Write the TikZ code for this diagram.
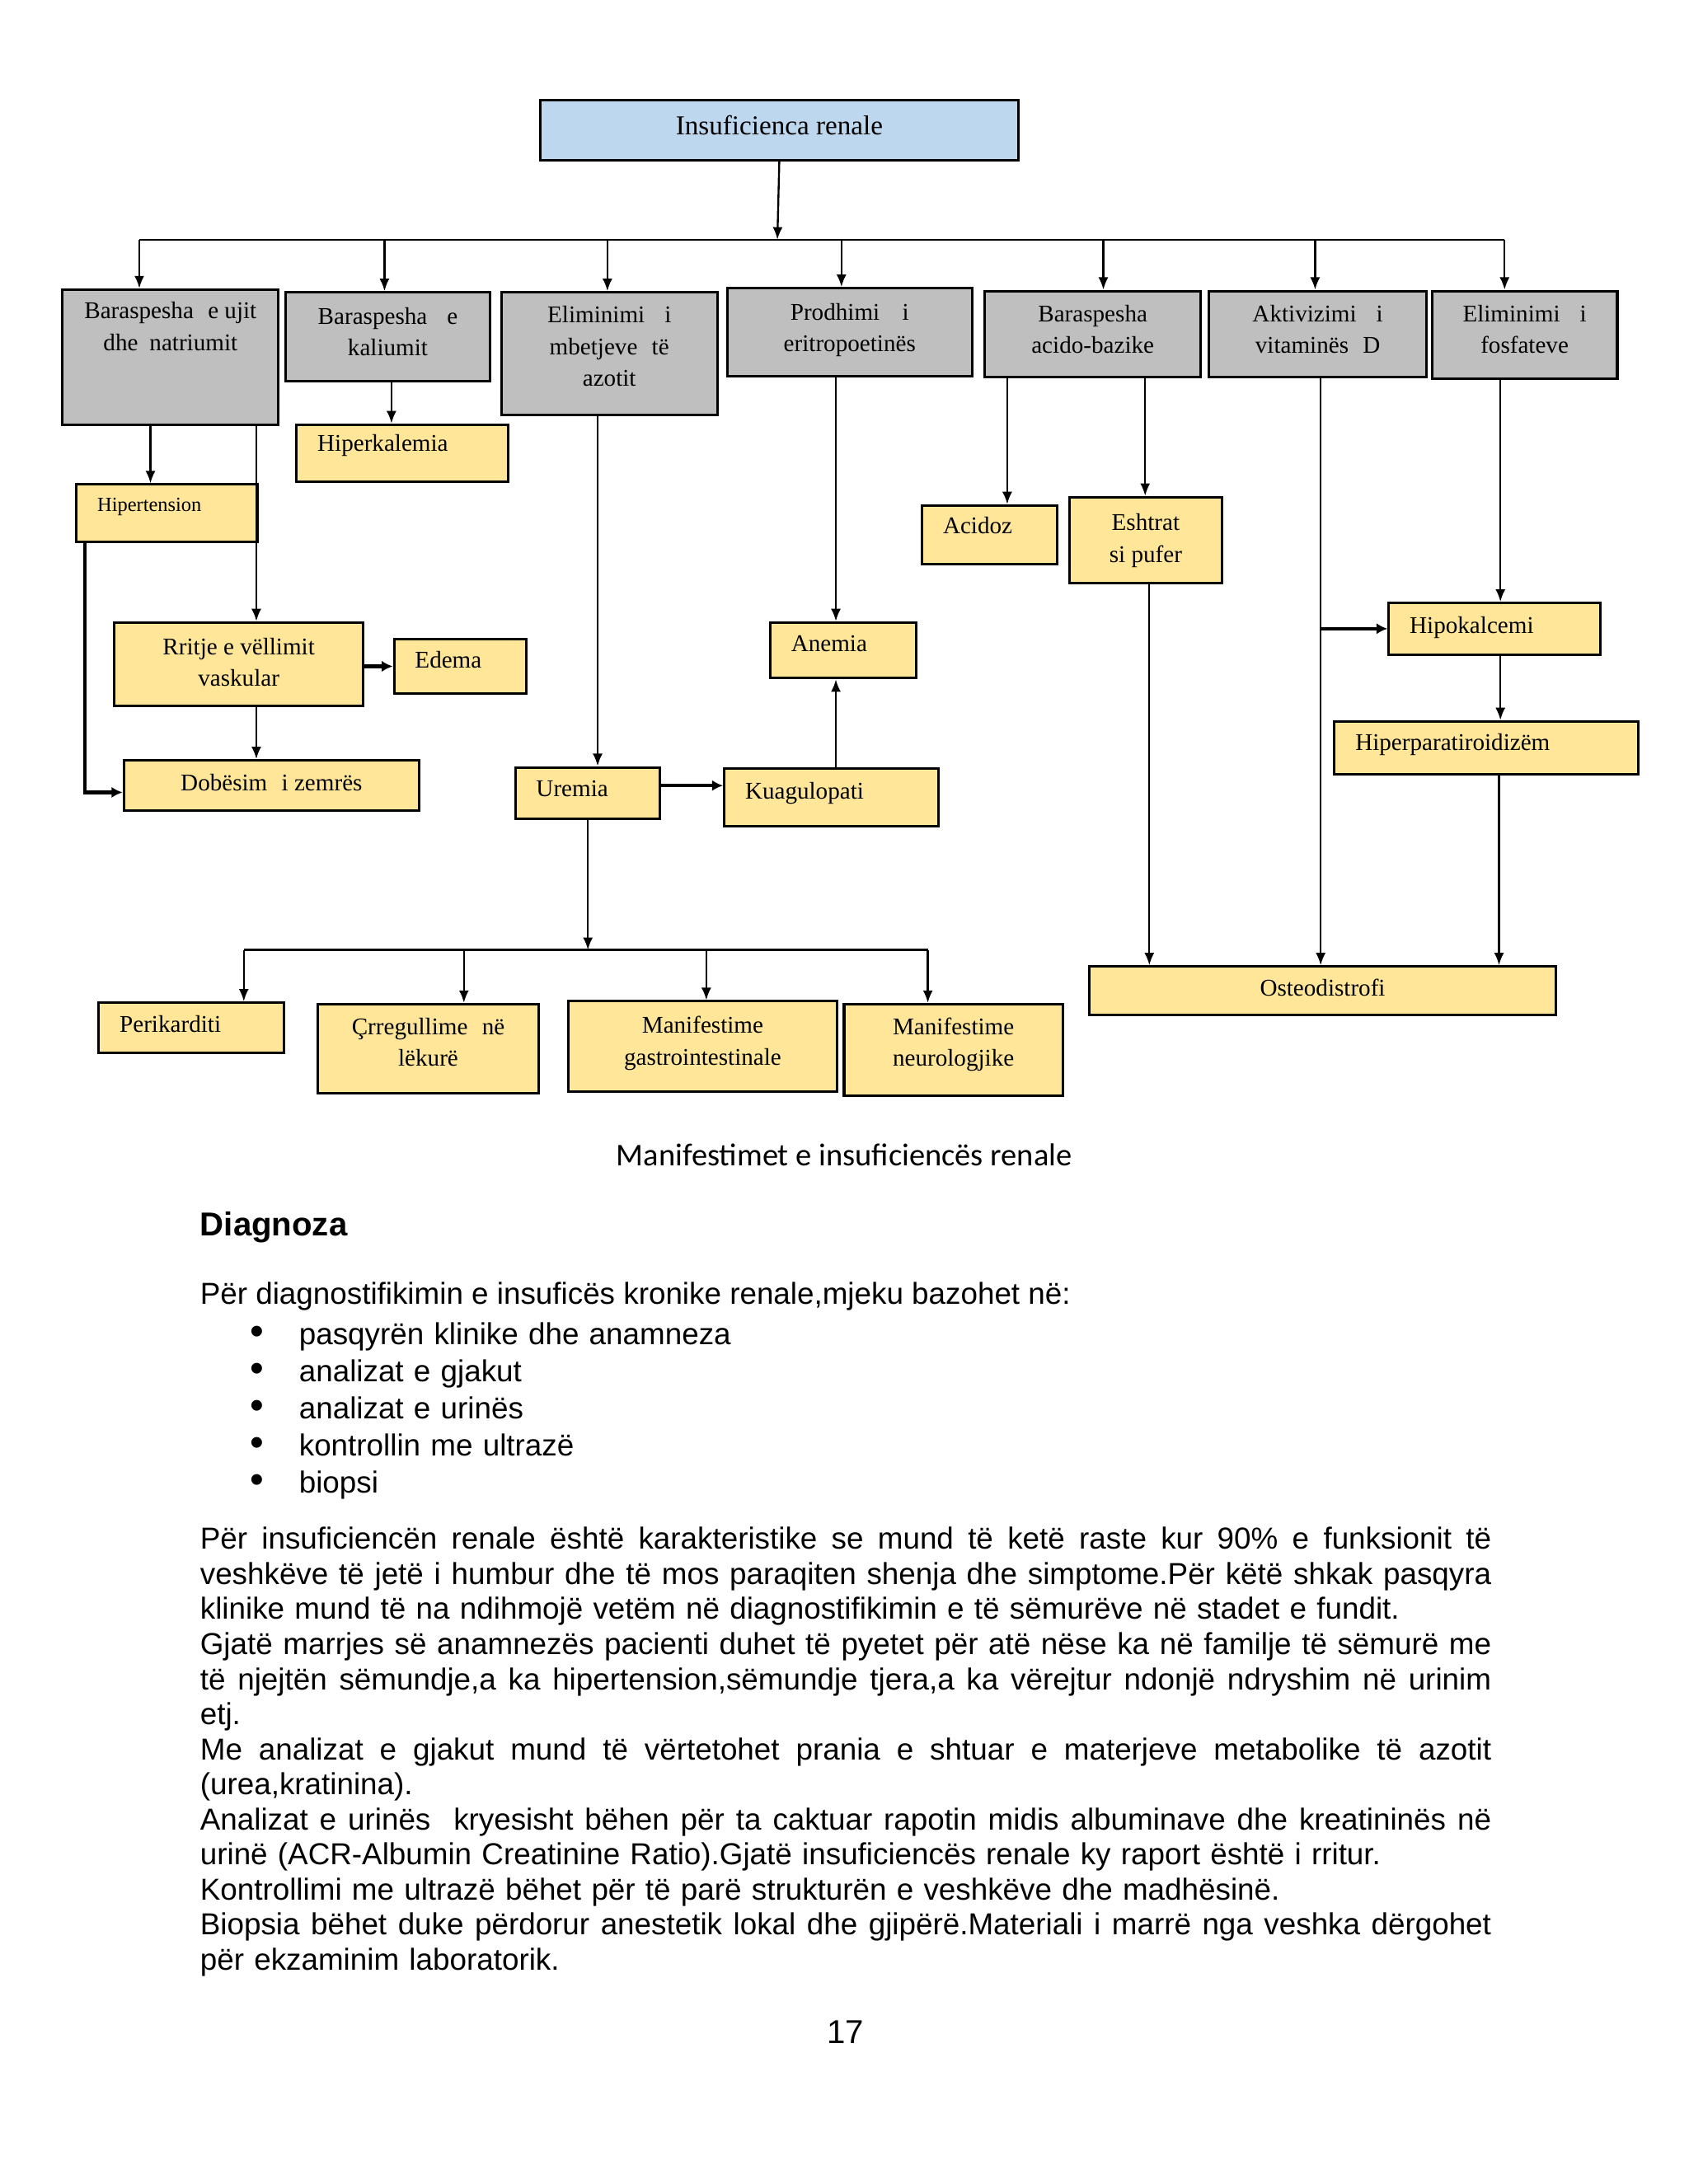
\documentclass[tikz,border=0pt]{standalone}
\usepackage{fontspec}
\setmainfont{Liberation Sans}
\newfontfamily\diafont{Liberation Serif}
\newfontfamily\capfont{Carlito}
\usetikzlibrary{arrows.meta}
\newdimen\unitpx
\unitpx=0.50495pt

\definecolor{kaltert}{RGB}{189,215,238}
\definecolor{gri}{RGB}{191,191,191}
\definecolor{verdhe}{RGB}{255,230,153}

% rresht i plote i tekstit
\newcommand{\jl}[1]{\leavevmode\hbox to 468pt{\spaceskip=0pt\xspaceskip=0pt #1}}
\newcommand{\pik}{\makebox[35\unitpx][l]{\scalebox{1.3}{\textbullet}}}
% kuti: emri, x, y, gjeresia, lartesia, stili, hapesira siper, teksti
\newcommand{\kutiC}[8]{%
\node[#6] (#1) at (#2,#3) {\parbox[c][#5\unitpx][t]{#4\unitpx}{\vspace*{#7\unitpx}\centering\strut #8}};}
\newcommand{\kutiL}[8]{%
\node[#6] (#1) at (#2,#3) {\parbox[c][#5\unitpx][t]{#4\unitpx}{\vspace*{#7\unitpx}\hspace*{15\unitpx}\strut #8}};}

\tikzset{
  bx/.style={draw, line width=0.9pt, anchor=north west, inner sep=0pt,
    font=\diafont\fontsize{8.7}{11.5}\selectfont},
  blubox/.style={bx, fill=kaltert, font=\diafont\fontsize{9.9}{12}\selectfont},
  gribox/.style={bx, fill=gri},
  verdbox/.style={bx, fill=verdhe},
  vogelbox/.style={bx, fill=verdhe, font=\diafont\fontsize{7.3}{9.5}\selectfont},
  arr/.style={-{Latex[length=4.5pt,width=3.6pt]}, line width=0.7pt},
  arrT/.style={-{Latex[length=4pt,width=4pt]}, line width=1.3pt}
}

\begin{document}
\begin{tikzpicture}[x=0.50495pt,y=-0.50495pt,line width=0.7pt]
\useasboundingbox (0,0) rectangle (1212,1568);
\fill[white] (0,0) rectangle (1212,1568);

% kutia kryesore
\kutiC{ins}{387}{71}{343}{43}{blubox}{8}{Insuficienca renale}

% funksionet e veshkes
\kutiC{g1}{44}{207}{155}{97}{gribox}{5}{Baraspesha\hspace{3pt} e ujit\\dhe\hspace{2pt} natriumit}
\kutiC{g2}{204}{209}{147}{64}{gribox}{7}{Baraspesha\hspace{5pt} e\\kaliumit}
\kutiC{g3}{359}{209}{155}{88}{gribox}{6}{Eliminimi\hspace{5pt} i\\mbetjeve\hspace{3pt} të\\azotit}
\kutiC{g4}{521}{206}{176}{63}{gribox}{7}{Prodhimi\hspace{6pt} i\\eritropoetinës}
\kutiC{g5}{706}{208}{155}{62}{gribox}{6}{Baraspesha\\acido-bazike}
\kutiC{g6}{867}{208}{156}{62}{gribox}{6}{Aktivizimi\hspace{5pt} i\\vitaminës\hspace{3pt} D}
\kutiC{g7}{1027}{208}{133}{63}{gribox}{6}{Eliminimi\hspace{5pt} i\\fosfateve}

% pasojat
\kutiL{hk}{212}{304}{152}{41}{verdbox}{3}{Hiperkalemia}
\kutiL{hip}{54}{347}{130}{41}{vogelbox}{6}{Hipertension}
\kutiC{rr}{81}{446}{179}{60}{verdbox}{7}{Rritje e vëllimit\\vaskular}
\kutiL{ed}{282}{458}{95}{39}{verdbox}{5}{Edema}
\kutiC{dob}{88}{545}{212}{36}{verdbox}{6}{Dobësim\hspace{3pt} i zemrës}
\kutiL{ur}{369}{550}{104}{37}{verdbox}{5}{Uremia}
\kutiL{ku}{519}{551}{154}{41}{verdbox}{6}{Kuagulopati}
\kutiL{an}{552}{446}{105}{40}{verdbox}{5}{Anemia}
\kutiL{ac}{661}{362}{97}{42}{verdbox}{4}{Acidoz}
\kutiC{es}{767}{356}{109}{62}{verdbox}{8}{Eshtrat\\si pufer}
\kutiL{hk2}{996}{432}{152}{37}{verdbox}{6}{Hipokalcemi}
\kutiL{hp}{957}{517}{218}{38}{verdbox}{5}{Hiperparatiroidizëm}
\kutiC{os}{781}{693}{335}{35}{verdbox}{5}{Osteodistrofi}
\kutiL{pk}{70}{719}{133}{36}{verdbox}{5}{Perikarditi}
\kutiC{cr}{227}{720}{159}{64}{verdbox}{6}{Çrregullime\hspace{3pt} në\\lëkurë}
\kutiC{mg}{407}{718}{193}{65}{verdbox}{7}{Manifestime\\gastrointestinale}
\kutiC{mn}{605}{720}{157}{66}{verdbox}{6}{Manifestime\\neurologjike}

% degezimi kryesor
\coordinate (b0) at (558,172);
\draw[arr] (ins.south) -- (b0);
\foreach \n/\xx in {g1/100,g2/276,g3/436,g4/604,g5/792,g6/944,g7/1080}{
  \coordinate (t\n) at (\xx,172);
  \draw[arr] (t\n) -- (t\n |- \n.north);
}
\draw (tg1) -- (tg7);

% lidhjet
\draw[arr] (g1.south -| 108,0) -- (hip.north -| 108,0);
\draw[arr] (g1.south -| 184,0) -- (rr.north -| 184,0);
\draw[arrT] (hip.south -| 61,0) |- ([shift={(0,5)}]dob.west);
\draw[arrT] (rr.east |- ed.west) -- (ed.west);
\draw[arr] (rr.south -| 184,0) -- (dob.north -| 184,0);
\draw[arr] (g2.south -| 281,0) -- (hk.north -| 281,0);
\draw[arr] (g3.south -| 429,0) -- (ur.north -| 429,0);
\draw[arrT] (ur.east |- 0,564) -- (ku.west |- 0,564);
\draw[arr] (g4.south -| 600,0) -- (an.north -| 600,0);
\draw[arr] (ku.north -| 600,0) -- (an.south -| 600,0);
\draw[arr] (g5.south -| 723,0) -- (ac.north -| 723,0);
\draw[arr] (g5.south -| 822,0) -- (es.north -| 822,0);
\draw[arr] (es.south -| 825,0) -- (os.north -| 825,0);
\draw[arr] (g6.south -| 948,0) -- (os.north -| 948,0);
\draw[arrT] (hk2.west -| 948,0) -- (hk2.west);
\draw[arr] (g7.south -| 1077,0) -- (hk2.north -| 1077,0);
\draw[arr] (hk2.south -| 1077,0) -- (hp.north -| 1077,0);
\draw[arr] (hp.south -| 1076,0) -- (os.north -| 1076,0);

% uremia
\coordinate (u0) at (422,682);
\draw[arr] (ur.south -| u0) -- (u0);
\foreach \n/\xx in {pk/175,cr/333,mg/507,mn/666}{
  \coordinate (t\n) at (\xx,682);
  \draw[arr] (t\n) -- (t\n |- \n.north);
}
\draw (tpk) -- (tmn);

% teksti i faqes
\node[font=\capfont\fontsize{11.5}{13}\selectfont] (titulli) at (606,829) {Manifestimet e insuficiencës renale};
\node[anchor=west, inner sep=0pt, font=\bfseries\fontsize{12}{14}\selectfont] (diag) at (143,881) {Diagnoza};
\node[anchor=west, inner sep=0pt, font=\fontsize{11}{13}\selectfont] (hyrje) at (143,931) {Për diagnostifikimin e insuficës kronike renale,mjeku bazohet në:};
\node[anchor=north west, inner sep=0pt, text width=300pt, align=left, font=\fontsize{11}{13.43}\selectfont] (lista) at (179,946) {%
\strut\pik pasqyrën klinike dhe anamneza\\
\pik analizat e gjakut\\
\pik analizat e urinës\\
\pik kontrollin me ultrazë\\
\pik biopsi};
\node[anchor=north west, inner sep=0pt, text width=468pt, align=left, font=\fontsize{11}{12.71}\selectfont] (teksti) at (143,1094) {%
\strut\jl{Për insuficiencën renale është karakteristike se mund të ketë raste kur 90\% e funksionit të}\\
\jl{veshkëve të jetë i humbur dhe të mos paraqiten shenja dhe simptome.Për këtë shkak pasqyra}\\
klinike mund të na ndihmojë vetëm në diagnostifikimin e të sëmurëve në stadet e fundit.\\
\jl{Gjatë marrjes së anamnezës pacienti duhet të pyetet për atë nëse ka në familje të sëmurë me}\\
\jl{të njejtën sëmundje,a ka hipertension,sëmundje tjera,a ka vërejtur ndonjë ndryshim në urinim}\\
etj.\\
\jl{Me analizat e gjakut mund të vërtetohet prania e shtuar e materjeve metabolike të azotit}\\
(urea,kratinina).\\
\jl{Analizat e urinës\ \ kryesisht bëhen për ta caktuar rapotin midis albuminave dhe kreatininës në}\\
urinë (ACR-Albumin Creatinine Ratio).Gjatë insuficiencës renale ky raport është i rritur.\\
Kontrollimi me ultrazë bëhet për të parë strukturën e veshkëve dhe madhësinë.\\
\jl{Biopsia bëhet duke përdorur anestetik lokal dhe gjipërë.Materiali i marrë nga veshka dërgohet}\\
për ekzaminim laboratorik.};
\node[font=\fontsize{12}{14}\selectfont] (faqe) at (607,1459) {17};
\end{tikzpicture}
\end{document}
